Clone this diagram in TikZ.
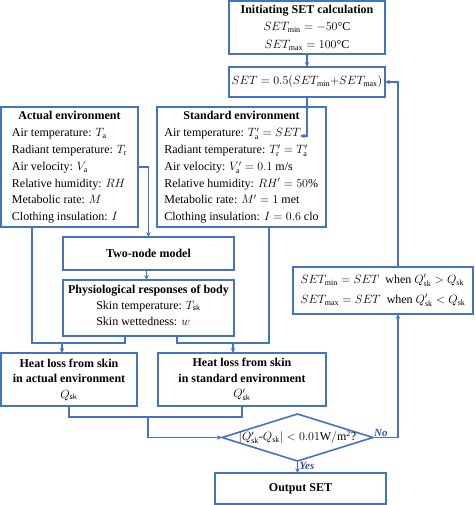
\documentclass[tikz,border=0pt]{standalone}
\usepackage{amsmath}
\usepackage{fontspec}
\setmainfont{Liberation Serif}
\usepackage{tikz}
\usetikzlibrary{arrows.meta,shapes.geometric}
\definecolor{flowblue}{RGB}{68,114,196}
\definecolor{answerblue}{RGB}{47,85,170}
\newcommand*\boxline{1.6pt}
\newcommand*\tiplen {5pt}
\tikzset{
    box/.style      = {draw=flowblue, line width=\boxline, rectangle,
                      inner sep=0pt, outer sep=0pt, align=center,
                      font=\fontsize{12}{16.8}\selectfont},
    initbox/.style  = {box, font=\fontsize{12}{17.5}\selectfont},
    heatbox/.style  = {box, font=\fontsize{12}{15.5}\selectfont},
    updatebox/.style= {box, align=left, font=\fontsize{12}{20}\selectfont},
    decision/.style = {draw=flowblue, line width=\boxline, diamond,
                      inner sep=0pt, outer sep=0pt},
    link/.style     = {draw=flowblue, line width=\boxline},
    flow/.style     = {link, -{Stealth[length=\tiplen, width=4.5pt]}},
    answer/.style   = {text=answerblue, inner sep=1pt,
                      font=\fontsize{11}{13}\selectfont\bfseries\itshape},
  }

\begin{document}
\begin{tikzpicture}[x=1pt, y=-1pt]
    \useasboundingbox (0,0) rectangle (474,505);

    % Top of the loop
    \node[initbox, minimum width=156pt, minimum height=53pt] (init) at (307,27.5)
        {\textbf{Initiating SET calculation}\\
         $SET_{\min} = -50$°C\\
         $SET_{\max} = 100$°C};
    \node[box, minimum width=156pt, minimum height=30pt] (setbox) at (307,82)
        {$SET = 0.5(SET_{\min}{+}SET_{\max})$};

    % Both environments
    \node[box, minimum width=137pt, minimum height=120pt] (actual) at (69.5,167)
        {\begin{tabular}{@{}l@{}}
         \multicolumn{1}{@{}c@{}}{\textbf{Actual environment}}\\
         Air temperature: $T_\mathrm{a}$\\
         Radiant temperature: $T_\mathrm{r}$\\
         Air velocity: $V_\mathrm{a}$\\
         Relative humidity: $RH$\\
         Metabolic rate: $M$\\
         Clothing insulation: $I$
         \end{tabular}};
    \node[box, minimum width=169pt, minimum height=120pt] (standard) at (241.5,167)
        {\begin{tabular}{@{}l@{}}
         \multicolumn{1}{@{}c@{}}{\textbf{Standard environment}}\\
         Air temperature: $T'_\mathrm{a} = SET$\\
         Radiant temperature: $T'_\mathrm{r} = T'_\mathrm{a}$\\
         Air velocity: $V'_\mathrm{a} = 0.1$ m/s\\
         Relative humidity: $RH' = 50\%$\\
         Metabolic rate: $M' = 1$ met\\
         Clothing insulation: $I = 0.6$ clo
         \end{tabular}};

    % Body model
    \node[box, minimum width=171pt, minimum height=33pt] (twonode) at (148.5,253.5)
        {\textbf{Two-node model}};
    \node[box, minimum width=171pt, minimum height=56pt] (physio) at (148.5,308)
        {\textbf{Physiological responses of body}\\
         \begin{tabular}{@{}l@{}}
         Skin temperature: $T_\mathsf{sk}$\\
         Skin wettedness: $w$
         \end{tabular}};

    % Heat losses
    \node[heatbox, minimum width=136pt, minimum height=53pt] (heatA) at (69,379.5)
        {\textbf{Heat loss from skin}\\
         \textbf{in actual environment}\\
         $Q_\mathsf{sk}$};
    \node[heatbox, minimum width=168pt, minimum height=53pt] (heatS) at (242,379.5)
        {\textbf{Heat loss from skin}\\
         \textbf{in standard environment}\\
         $Q'_\mathsf{sk}$};

    % Check, update and output
    \node[decision, minimum width=151pt, minimum height=47pt] (check) at (297.5,437.5) {};
    \node[font=\fontsize{12}{14}\selectfont] (checktext) at (check)
        {$|Q'_\mathrm{sk}\text{-}Q_\mathrm{sk}| < 0.01\mathrm{W/m^2}$?};
    \node[updatebox, minimum width=180pt, minimum height=47pt] (update) at (383,290.5)
        {$SET_{\min} = SET$\ \ when $Q'_\mathrm{sk} > Q_\mathrm{sk}$\\
         $SET_{\max} = SET$\ \ when $Q'_\mathrm{sk} < Q_\mathrm{sk}$};
    \node[box, minimum width=171pt, minimum height=31pt] (output) at (300.5,488.5)
        {\textbf{Output SET}};

    % Join points
    \coordinate (jA) at (62,343);
    \coordinate (jS) at (233,343);
    \coordinate (jQ) at (148,417);
    \coordinate (tstd) at (300,136);

    % Connectors
    \draw[flow] (init) -- (setbox);
    \draw[flow] (setbox.south) |- (tstd);
    \draw[flow] (actual.east) -| (twonode.north);
    \draw[flow] ([xshift=-2pt]twonode.south) -- ([xshift=-2pt]physio.north);
    \draw[link] ([xshift=31pt]actual.south west) |- (jA) -| ([xshift=62pt]physio.south west);
    \draw[flow] (jA) -- (jA |- heatA.north);
    \draw[link] ([xshift=-57pt]physio.south east) |- (jS) -| ([xshift=-57pt]standard.south east);
    \draw[flow] (jS) -- (jS |- heatS.north);
    \draw[link] (heatA.south) |- (jQ) -| (heatS.south);
    \draw[flow] (jQ) |- (check.west);
    \draw[flow] (check.east) -| ([xshift=15pt]update.south);
    \draw[flow] ([xshift=15pt]update.north) |- (setbox.east);
    \draw[flow] (check.south) -- (check.south |- output.north);

    % Answers
    \node[answer, anchor=south west] (no) at (check.east) {No};
    \node[answer, anchor=north west] (yes) at ([xshift=1pt]check.south) {Yes};
\end{tikzpicture}
\end{document}
